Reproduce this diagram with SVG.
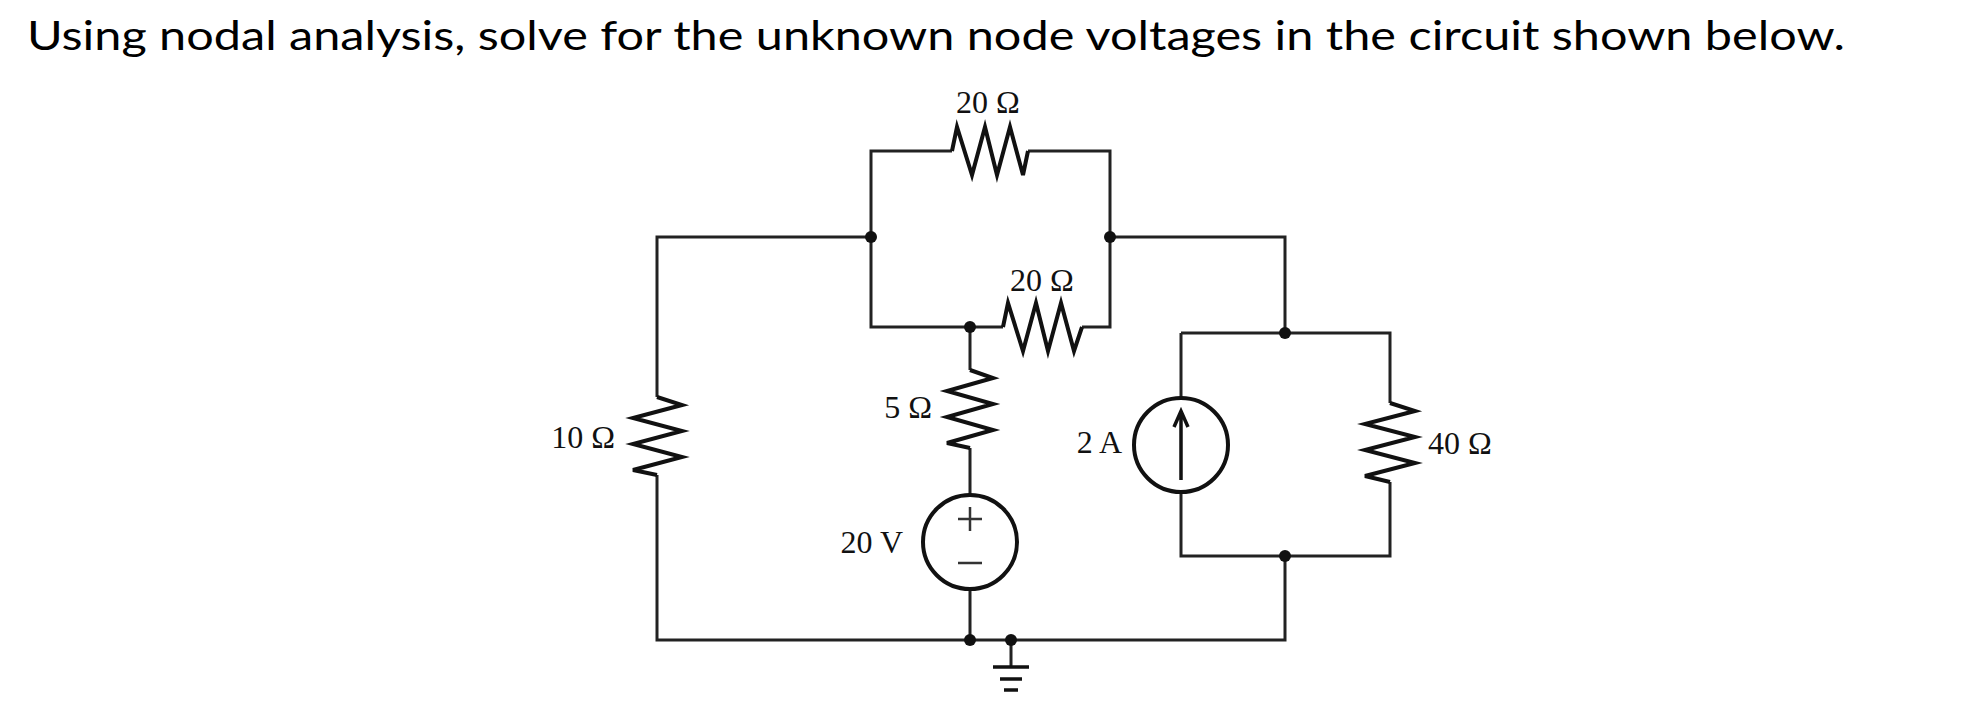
<svg xmlns="http://www.w3.org/2000/svg" width="1964" height="724" viewBox="0 0 1964 724">
<style>
.w{fill:none;stroke:#222;stroke-width:3}
.r{fill:none;stroke:#111;stroke-width:4;stroke-linejoin:miter}
.s{fill:none;stroke:#111;stroke-width:4}
.d{fill:#111}
.l{font-family:"Liberation Serif",serif;font-size:32px;fill:#111}
.t{font-family:Lato,"Open Sans",sans-serif;font-size:40px;fill:#000}
</style>
<rect width="1964" height="724" fill="#fff"/>
<text class="t" x="27" y="50" textLength="1818" lengthAdjust="spacingAndGlyphs">Using nodal analysis, solve for the unknown node voltages in the circuit shown below.</text>
<g id="connectors">
<path class="w" d="M871 237 V151 H952 M1028 151 H1110 V327 H1082 M1003 327 H871 V237 M871 237 H657 V397 M657 475 V640 H1285 V556 M1110 237 H1285 V333 M1181 333 H1390 V403 M1390 482 V556 H1181 V492 M1181 398 V333 M970 327 V370 M970 448 V495 M970 589 V640 M1011 640 V667"/>
</g>
<g id="r_top"><path class="r" d="M952 151 L957 127 L972 175 L985 127 L997 175 L1010 127 L1023 175 L1028 151"/><text class="l" x="988" y="113" text-anchor="middle">20 Ω</text></g>
<g id="r_mid"><path class="r" d="M1003 327 L1008 303 L1023 351 L1036 303 L1048 351 L1061 303 L1074 351 L1082 327"/><text class="l" x="1042" y="291" text-anchor="middle">20 Ω</text></g>
<g id="r_5"><path class="r" d="M970 370 L993 378 L947 391 L993 404 L947 417 L993 430 L947 443 L970 448"/><text class="l" x="932" y="418" text-anchor="end">5 Ω</text></g>
<g id="r_10"><path class="r" d="M657 397 L682 405 L633 418 L682 431 L633 444 L682 457 L633 470 L657 475"/><text class="l" x="615" y="448" text-anchor="end">10 Ω</text></g>
<g id="r_40"><path class="r" d="M1390 403 L1415 411 L1365 424 L1415 437 L1365 450 L1415 463 L1365 476 L1390 482"/><text class="l" x="1428" y="454">40 Ω</text></g>
<g id="vsrc"><circle class="s" cx="970" cy="542" r="47"/><path stroke="#333" stroke-width="2.5" d="M958 519 H982 M970 507 V531 M958 563 H982"/><text class="l" x="903" y="553" text-anchor="end">20 V</text></g>
<g id="isrc"><circle class="s" cx="1181" cy="445" r="47"/><path stroke="#111" stroke-width="3.5" fill="none" d="M1181 480 V413 M1174 427 L1181 411 L1188 427"/><text class="l" x="1122" y="453" text-anchor="end">2 A</text></g>
<g id="ground"><path stroke="#111" stroke-width="3.5" d="M993 667 H1029 M1000 679 H1022 M1004 690 H1018"/></g>
<g id="nodes">
<circle class="d" cx="871" cy="237" r="6"/><circle class="d" cx="1110" cy="237" r="6"/><circle class="d" cx="970" cy="327" r="6"/><circle class="d" cx="1285" cy="333" r="6"/><circle class="d" cx="1285" cy="556" r="6"/><circle class="d" cx="970" cy="640" r="6"/><circle class="d" cx="1011" cy="640" r="6"/>
</g>
</svg>
